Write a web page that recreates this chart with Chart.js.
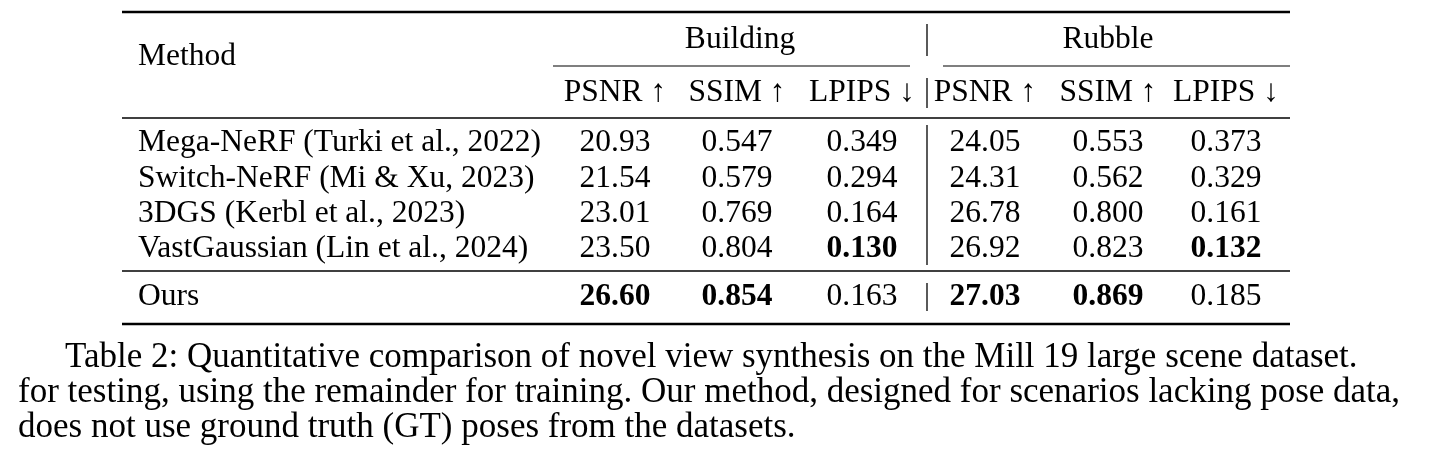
<!DOCTYPE html>
<html>
<head>
<meta charset="utf-8">
<script src="https://cdn.jsdelivr.net/npm/chart.js@4"></script>
<style>
  body { margin: 0; background: #fff; }
  canvas { display: block; }
</style>
</head>
<body>
<canvas id="table" width="1440" height="475"></canvas>
<script>
// table data
var methods = [
  'Mega-NeRF (Turki et al., 2022)',
  'Switch-NeRF (Mi & Xu, 2023)',
  '3DGS (Kerbl et al., 2023)',
  'VastGaussian (Lin et al., 2024)',
  'Ours'
];
var groups = ['Building', 'Rubble'];
var metrics = ['PSNR ↑', 'SSIM ↑', 'LPIPS ↓', 'PSNR ↑', 'SSIM ↑', 'LPIPS ↓'];
var buildingPsnr = ['20.93', '21.54', '23.01', '23.50', '26.60'];
var buildingSsim = ['0.547', '0.579', '0.769', '0.804', '0.854'];
var buildingLpips = ['0.349', '0.294', '0.164', '0.130', '0.163'];
var rubblePsnr = ['24.05', '24.31', '26.78', '26.92', '27.03'];
var rubbleSsim = ['0.553', '0.562', '0.800', '0.823', '0.869'];
var rubbleLpips = ['0.373', '0.329', '0.161', '0.132', '0.185'];
var captionLines = [
  'Table 2: Quantitative comparison of novel view synthesis on the Mill 19 large scene dataset.',
  'for testing, using the remainder for training. Our method, designed for scenarios lacking pose data,',
  'does not use ground truth (GT) poses from the datasets.'
];

// layout (scale units = pixels)
var columns = [buildingPsnr, buildingSsim, buildingLpips, rubblePsnr, rubbleSsim, rubbleLpips];
var higherBetter = [true, true, false, true, true, false];
var colX = [615, 737, 862, 985, 1108, 1226];
var rowY = [143, 179, 214, 249, 297];
var FONT = '"Liberation Serif", "DejaVu Serif", serif';
var TSIZE = '31.5px ';
var CSIZE = '35px ';

var datasets = columns.map(function (col, c) {
  return {
    data: col.map(function (v, r) { return { x: colX[c], y: rowY[r] }; }),
    pointRadius: 0,
    showLine: false
  };
});
datasets.push({
  data: methods.map(function (m, r) { return { x: 138, y: rowY[r] }; }),
  pointRadius: 0
});

var tablePlugin = {
  id: 'tableText',
  afterDatasetsDraw: function (chart) {
    var ctx = chart.ctx;
    var sx = chart.scales.x, sy = chart.scales.y;
    var X = function (v) { return sx.getPixelForValue(v); };
    var Y = function (v) { return sy.getPixelForValue(v); };
    ctx.save();
    ctx.fillStyle = '#000';
    ctx.strokeStyle = '#000';
    function rule(x1, x2, y, w) {
      ctx.lineWidth = w;
      ctx.beginPath(); ctx.moveTo(X(x1), Y(y)); ctx.lineTo(X(x2), Y(y)); ctx.stroke();
    }
    function vline(x, y1, y2) {
      ctx.lineWidth = 1.3;
      ctx.beginPath(); ctx.moveTo(X(x), Y(y1)); ctx.lineTo(X(x), Y(y2)); ctx.stroke();
    }
    rule(122, 1290, 12, 2.4);
    rule(553, 910, 66, 1.2);
    rule(943, 1290, 66, 1.2);
    rule(122, 1290, 118, 1.3);
    rule(122, 1290, 271, 1.3);
    rule(122, 1290, 324, 2.4);
    vline(927, 24, 56);
    vline(927, 78, 108);
    vline(927, 125, 265);
    vline(927, 283, 311);

    ctx.font = TSIZE + FONT;
    ctx.textBaseline = 'middle';
    ctx.textAlign = 'left';
    ctx.fillText('Method', X(138), Y(57));
    ctx.textAlign = 'center';
    ctx.fillText(groups[0], X(740), Y(40));
    ctx.fillText(groups[1], X(1108), Y(40));
    metrics.forEach(function (m, i) { ctx.fillText(m, X(colX[i]), Y(93)); });

    var n = datasets.length - 1;
    chart.getDatasetMeta(n).data.forEach(function (pt, r) {
      ctx.textAlign = 'left';
      ctx.font = TSIZE + FONT;
      ctx.fillText(methods[r], pt.x, pt.y);
    });
    columns.forEach(function (col, c) {
      var nums = col.map(Number);
      var best = higherBetter[c] ? Math.max.apply(null, nums) : Math.min.apply(null, nums);
      chart.getDatasetMeta(c).data.forEach(function (pt, r) {
        ctx.textAlign = 'center';
        ctx.font = (nums[r] === best ? 'bold ' : '') + TSIZE + FONT;
        ctx.fillText(col[r], pt.x, pt.y);
      });
    });

    ctx.font = CSIZE + FONT;
    ctx.textAlign = 'left';
    ctx.fillText(captionLines[0], X(65), Y(358));
    ctx.fillText(captionLines[1], X(18), Y(393));
    ctx.fillText(captionLines[2], X(18), Y(428));
    ctx.restore();
  }
};

new Chart(document.getElementById('table'), {
  type: 'scatter',
  data: { datasets: datasets },
  options: {
    responsive: false,
    animation: false,
    layout: { padding: 0 },
    plugins: { legend: { display: false }, tooltip: { enabled: false } },
    scales: {
      x: { type: 'linear', min: 0, max: 1440, display: false },
      y: { type: 'linear', min: 0, max: 475, reverse: true, display: false }
    }
  },
  plugins: [tablePlugin]
});
</script>
</body>
</html>
